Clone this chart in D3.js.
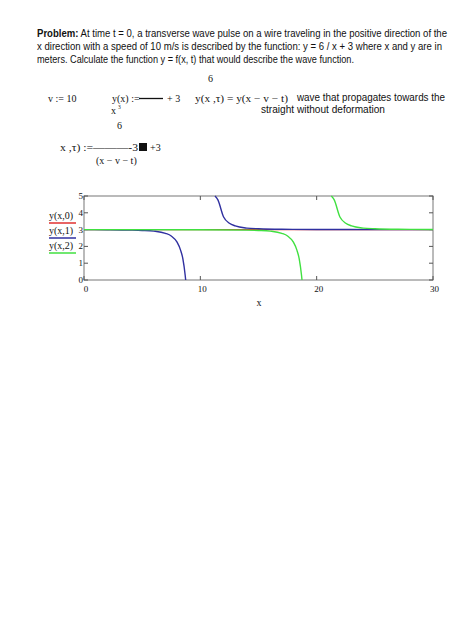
<!DOCTYPE html><html><head><meta charset="utf-8"><script src="https://cdn.jsdelivr.net/npm/d3@7"></script>
<style>body{margin:0;background:#fff}</style></head><body><script>
const xTicks=[0,10,20,30], yTicks=[0,1,2,3,4,5];
const seriesNames=["y(x,0)","y(x,1)","y(x,2)"];
const seriesColors=["#e03030","#3030a0","#40e040"];
const red=[[0,3],[30,3]];
const blueA=[[0,3],[2,2.99],[4,2.97],[5,2.95],[6,2.91],[7,2.78],[7.5,2.62],[8,2.25],[8.3,1.78],[8.5,1.26],[8.7,0.27],[8.74,0]];
const blueB=[[11.26,5],[11.5,4.78],[12,3.75],[12.5,3.38],[13,3.22],[14,3.09],[15,3.05],[17,3.02],[20,3.01],[25,3],[30,3]];
const greenA=[[0,3],[10,2.99],[14,2.97],[15,2.95],[16,2.91],[17,2.78],[17.5,2.62],[18,2.25],[18.3,1.78],[18.5,1.26],[18.7,0.27],[18.74,0]];
const greenB=[[21.26,5],[21.5,4.78],[22,3.75],[22.5,3.38],[23,3.22],[24,3.09],[25,3.05],[27,3.02],[30,3.01]];
const W=474,H=632;
const svg=d3.select("body").append("svg").attr("width",W).attr("height",H);
const sans="Liberation Sans, Arial", serif="Liberation Serif, Times New Roman";
function t(x,y,s,o={}){const e=svg.append("text").attr("x",x).attr("y",y).attr("font-family",o.f||sans).attr("font-size",o.fs||10.5).attr("fill","#111").text(s);if(o.tl)e.attr("textLength",o.tl).attr("lengthAdjust","spacingAndGlyphs");if(o.a)e.attr("text-anchor",o.a);return e;}
const p=t(37,37,"",{tl:410,fs:11});p.append("tspan").attr("font-weight","bold").text("Problem:");p.append("tspan").text(" At time t = 0, a transverse wave pulse on a wire traveling in the positive direction of the");
t(37,50,"x direction with a speed of 10 m/s is described by the function: y = 6 / x + 3 where x and y are in",{tl:405,fs:11});
t(37,63,"meters. Calculate the function y = f(x, t) that would describe the wave function.",{tl:317,fs:11});
t(208,82,"6",{f:serif,fs:10});
t(48,102,"v := 10",{f:serif,fs:10});
t(112,102,"y(x) :=",{f:serif,fs:10});
svg.append("line").attr("x1",139).attr("x2",163).attr("y1",98.5).attr("y2",98.5).attr("stroke","#111").attr("stroke-width",1.3);
t(167,102,"+ 3",{f:serif,fs:10});
t(111,114,"x",{f:serif,fs:10});t(118,109,"3",{f:serif,fs:5.5});
t(195,102,"y(x ,τ) = y(x − v − t)",{f:serif,fs:10,tl:93});
t(297,101,"wave that propagates towards the",{tl:148,fs:11});
t(261,113,"straight without deformation",{tl:124,fs:11});
t(117,129,"6",{f:serif,fs:10});
t(60,151,"x ,τ) :=———-3",{f:serif,fs:10,tl:78});
svg.append("rect").attr("x",139).attr("y",143).attr("width",8).attr("height",8).attr("fill","#111");
t(150,151,"+3",{f:serif,fs:10});
t(96,164,"(x − v − t)",{f:serif,fs:10});
const x=d3.scaleLinear().domain([0,30]).range([84,433]);
const y=d3.scaleLinear().domain([0,5]).range([280,196]);
const g=svg.append("g");
g.append("rect").attr("x",84).attr("y",196).attr("width",349).attr("height",84).attr("fill","none").attr("stroke","#777").attr("stroke-width",1);
xTicks.forEach(v=>{g.append("line").attr("x1",x(v)).attr("x2",x(v)).attr("y1",280).attr("y2",276).attr("stroke","#555");g.append("line").attr("x1",x(v)).attr("x2",x(v)).attr("y1",196).attr("y2",200).attr("stroke","#555");
 t(x(v)+(v==30?-3:2),292,v,{f:serif,fs:9,a:v==30?"start":"middle"});});
yTicks.forEach(v=>{g.append("line").attr("x1",84).attr("x2",88).attr("y1",y(v)).attr("y2",y(v)).attr("stroke","#555");g.append("line").attr("x1",433).attr("x2",429).attr("y1",y(v)).attr("y2",y(v)).attr("stroke","#555");
 t(83,y(v)+3,v,{f:serif,fs:9,a:"end"});});
t(259,306,"x",{f:serif,fs:10,a:"middle"});
const line=d3.line().x(d=>x(d[0])).y(d=>y(d[1])).curve(d3.curveMonotoneX);
[[red,0],[blueA,1],[blueB,1],[greenA,2],[greenB,2]].forEach(([d,i])=>g.append("path").attr("d",line(d)).attr("fill","none").attr("stroke",seriesColors[i]).attr("stroke-width",1.4));
seriesNames.forEach((n,i)=>{const yy=219+i*15;t(49,yy,n,{f:serif,fs:10});g.append("line").attr("x1",49).attr("x2",76).attr("y1",yy+4).attr("y2",yy+4).attr("stroke",seriesColors[i]).attr("stroke-width",1.5);});
</script></body></html>
